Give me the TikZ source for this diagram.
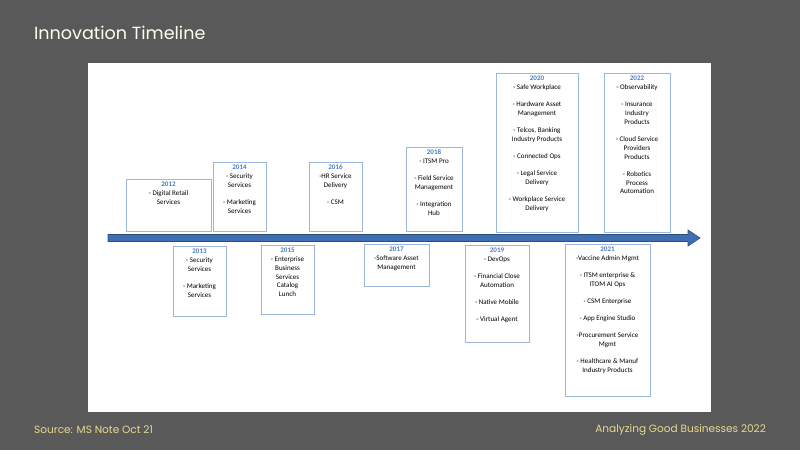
\documentclass[tikz,border=0pt]{standalone}
\usepackage{fontspec}
\setmainfont{Carlito}
\newfontfamily\titlefont{Poppins}
\definecolor{bgray}{HTML}{595959}
\definecolor{yearblue}{HTML}{4A7CC4}
\definecolor{boxblue}{HTML}{9DB6DD}
\definecolor{arrowblue}{HTML}{3F6FB0}
\definecolor{footyellow}{HTML}{E8D98E}
\tikzset{
  tlbox/.style={draw=boxblue, line width=0.6pt, fill=white},
  tltext/.style={anchor=north, align=center, inner sep=0pt, font=\fontsize{6}{7.6}\selectfont},
}
% box: name, x1, y1, x2, y2, year, items
\newcommand{\tlentry}[7]{%
  \draw[tlbox] (#2,#3) rectangle (#4,#5);
  \node[tltext] (#1) at ({(#2+#4)/2},#3+2.5) {{\bfseries\color{yearblue}#6}\\#7};
}
\begin{document}
\begin{tikzpicture}[x=0.03cm, y=-0.03cm]

	%%% background
    \fill[bgray] (0,0) rectangle (800,450);
    \useasboundingbox (0,0) rectangle (800,450);
    \fill[white] (88,63) rectangle (711,412);

    \node[anchor=west, text=white!94!yellow, font=\titlefont\fontsize{15}{18}\selectfont] (title) at (30,33) {Innovation Timeline};
    \node[anchor=west, text=footyellow, font=\titlefont\fontsize{9}{11}\selectfont] (source) at (30,430) {Source: MS Note Oct 21};
    \node[anchor=east, text=footyellow, font=\titlefont\fontsize{9}{11}\selectfont] (brand) at (770,430) {Analyzing Good Businesses 2022};

	%%% arrow
    \coordinate (T0) at (108,238);
    \coordinate (T1) at (700,238);
    \draw[draw=arrowblue!70!black, fill=arrowblue, line width=0.5pt]
      (108,234.5) -- (688,234.5) -- (688,230) -- (700,238) -- (688,246) -- (688,241.5) -- (108,241.5) -- cycle;

	%%% boxes above
    \tlentry{y2012}{126}{179}{211}{231}{2012}{- Digital Retail\\Services}
    \tlentry{y2014}{213}{162}{266}{231}{2014}{- Security\\Services\\[7pt]- Marketing\\Services}
    \tlentry{y2016}{309}{162}{362}{231}{2016}{-HR Service\\Delivery\\[7pt]- CSM}
    \tlentry{y2018}{406}{147}{462}{231}{2018}{- ITSM Pro\\[7pt]- Field Service\\Management\\[7pt]- Integration\\Hub}
    \tlentry{y2020}{496}{73}{578}{232}{2020}{- Safe Workplace\\[7pt]- Hardware Asset\\Management\\[7pt]- Telcos, Banking\\Industry Products\\[7pt]-\ Connected Ops\\[7pt]- Legal Service\\Delivery\\[7pt]- Workplace Service\\Delivery}
    \tlentry{y2022}{604}{73}{670}{232}{2022}{- Observability\\[7pt]- Insurance\\Industry\\Products\\[7pt]- Cloud Service\\Providers\\Products\\[7pt]- Robotics\\Process\\Automation}

	%%% boxes below
    \tlentry{y2013}{173}{246}{226}{316}{2013}{- Security\\Services\\[7pt]- Marketing\\Services}
    \tlentry{y2015}{261}{245}{314}{314}{2015}{- Enterprise\\Business\\Services\\Catalog\\Lunch}
    \tlentry{y2017}{364}{244}{429}{286}{2017}{-Software Asset\\Management}
    \tlentry{y2019}{465}{245}{529}{342}{2019}{- DevOps\\[7pt]- Financial Close\\Automation\\[7pt]- Native Mobile\\[7pt]- Virtual Agent}
    \tlentry{y2021}{565}{244}{650}{396}{2021}{-Vaccine Admin Mgmt\\[7pt]- ITSM enterprise \&\\ITOM AI Ops\\[7pt]- CSM Enterprise\\[7pt]- App Engine Studio\\[7pt]-Procurement Service\\Mgmt\\[7pt]- Healthcare \& Manuf\\Industry Products}

\end{tikzpicture}
\end{document}
